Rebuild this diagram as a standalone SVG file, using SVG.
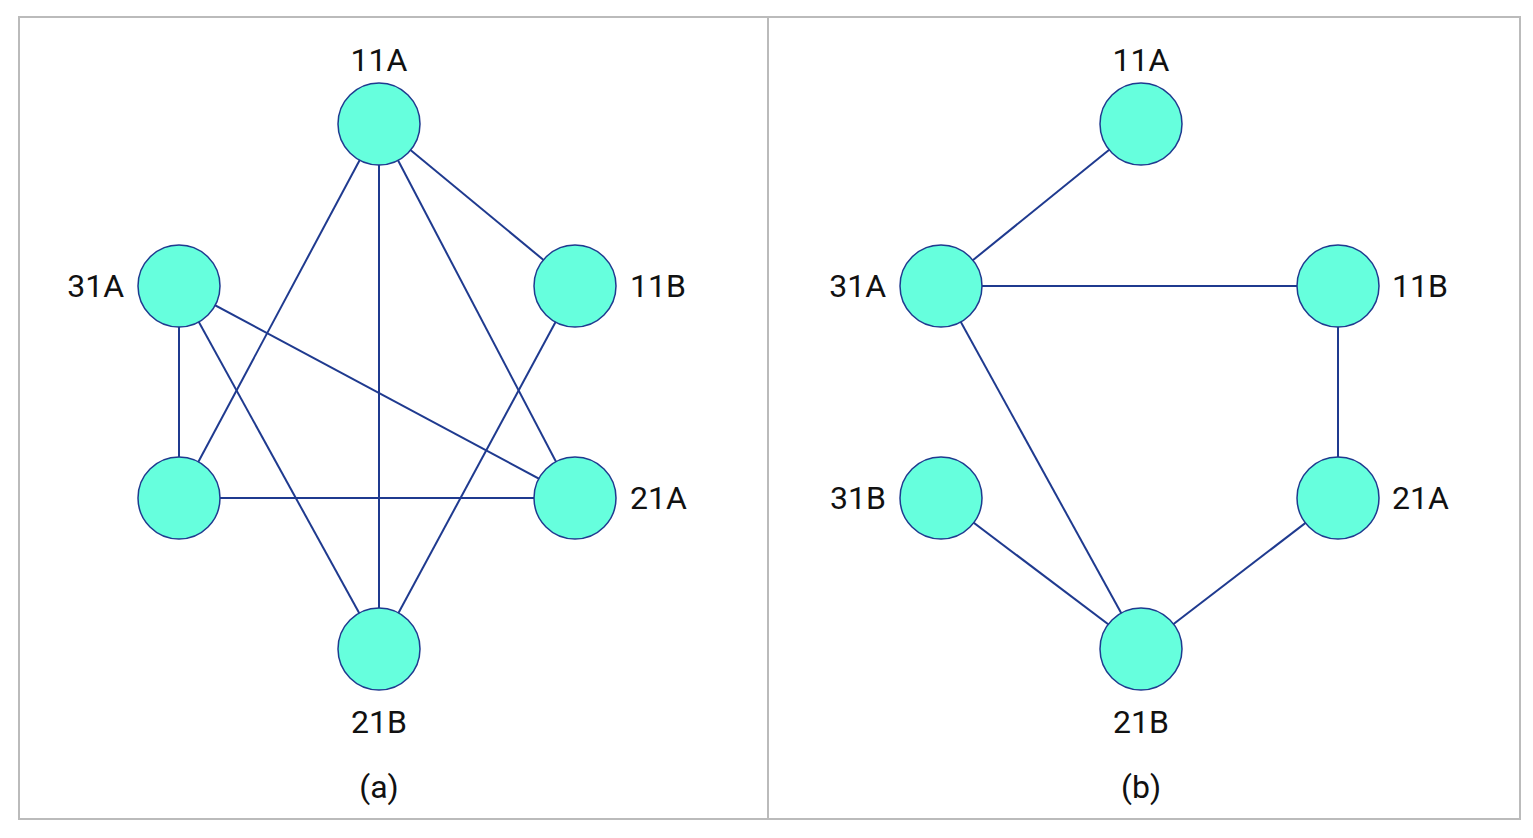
<svg xmlns="http://www.w3.org/2000/svg" width="1533" height="838" viewBox="0 0 1533 838">
<style>
.n{fill:#66ffdd;stroke:#1f3a8f;stroke-width:1.5}
.e line{stroke:#1f3a8f;stroke-width:2}
text{font-family:Roboto,"Liberation Sans",sans-serif;font-size:32px;fill:#111}
</style>
<rect width="1533" height="838" fill="#fff"/>
<rect x="19" y="17" width="1501" height="802" fill="none" stroke="#bbb" stroke-width="2"/>
<line x1="768" y1="17" x2="768" y2="819" stroke="#bbb" stroke-width="2"/>
<g class="e" id="connectors">
<line x1="379" y1="124" x2="575" y2="286"/>
<line x1="379" y1="124" x2="379" y2="649"/>
<line x1="379" y1="124" x2="575" y2="498"/>
<line x1="379" y1="124" x2="179" y2="498"/>
<line x1="179" y1="286" x2="179" y2="498"/>
<line x1="179" y1="286" x2="575" y2="498"/>
<line x1="179" y1="286" x2="379" y2="649"/>
<line x1="179" y1="498" x2="575" y2="498"/>
<line x1="575" y1="286" x2="379" y2="649"/>
<line x1="1141" y1="124" x2="941" y2="286"/>
<line x1="941" y1="286" x2="1338" y2="286"/>
<line x1="941" y1="286" x2="1141" y2="649"/>
<line x1="1338" y1="286" x2="1338" y2="498"/>
<line x1="941" y1="498" x2="1141" y2="649"/>
<line x1="1338" y1="498" x2="1141" y2="649"/>
</g>
<g id="a11A"><circle class="n" cx="379" cy="124" r="41"/><text x="379" y="71" text-anchor="middle">11A</text></g>
<g id="a11B"><circle class="n" cx="575" cy="286" r="41"/><text x="630" y="289" dominant-baseline="middle">11B</text></g>
<g id="a31A"><circle class="n" cx="179" cy="286" r="41"/><text x="124" y="289" text-anchor="end" dominant-baseline="middle">31A</text></g>
<g id="aBL"><circle class="n" cx="179" cy="498" r="41"/></g>
<g id="a21A"><circle class="n" cx="575" cy="498" r="41"/><text x="630" y="501" dominant-baseline="middle">21A</text></g>
<g id="a21B"><circle class="n" cx="379" cy="649" r="41"/><text x="379" y="733" text-anchor="middle">21B</text></g>
<text x="379" y="798" text-anchor="middle">(a)</text>
<g id="b11A"><circle class="n" cx="1141" cy="124" r="41"/><text x="1141" y="71" text-anchor="middle">11A</text></g>
<g id="b31A"><circle class="n" cx="941" cy="286" r="41"/><text x="886" y="289" text-anchor="end" dominant-baseline="middle">31A</text></g>
<g id="b11B"><circle class="n" cx="1338" cy="286" r="41"/><text x="1392" y="289" dominant-baseline="middle">11B</text></g>
<g id="b31B"><circle class="n" cx="941" cy="498" r="41"/><text x="886" y="501" text-anchor="end" dominant-baseline="middle">31B</text></g>
<g id="b21A"><circle class="n" cx="1338" cy="498" r="41"/><text x="1392" y="501" dominant-baseline="middle">21A</text></g>
<g id="b21B"><circle class="n" cx="1141" cy="649" r="41"/><text x="1141" y="733" text-anchor="middle">21B</text></g>
<text x="1141" y="798" text-anchor="middle">(b)</text>
</svg>
